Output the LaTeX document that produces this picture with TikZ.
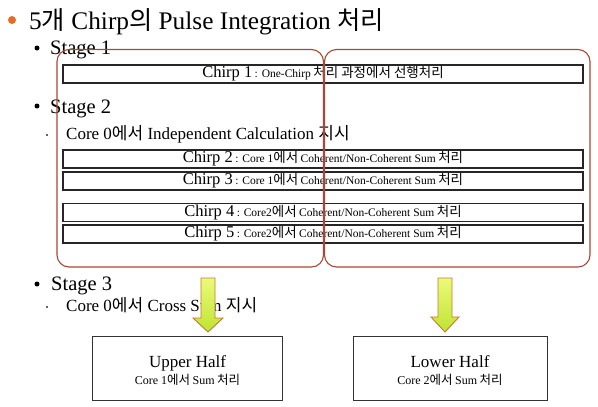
\documentclass[tikz,border=0pt]{standalone}
\usepackage{fontspec}
\setmainfont{Liberation Serif}
\newfontfamily\kr{Noto Sans CJK KR}
\usetikzlibrary{calc}
\definecolor{boxred}{RGB}{168,72,52}
\definecolor{bulorange}{RGB}{228,108,40}
\definecolor{arrowedge}{RGB}{200,120,50}
\definecolor{limetop}{RGB}{236,250,120}
\definecolor{limebot}{RGB}{190,228,50}
\tikzset{
  txt/.style={inner sep=0pt, anchor=base west},
  chirpbox/.style={draw=black!85, line width=1.3pt, minimum width=520pt, minimum height=18pt, inner sep=0pt},
  groupbox/.style={draw=boxred, line width=1.1pt, rounded corners=12pt, inner sep=0pt},
  halfbox/.style={draw=black!80, line width=1pt, minimum width=190pt, minimum height=64pt, inner sep=0pt, align=center},
  blockarrow/.style={draw=arrowedge, line width=0.9pt, top color=limetop, bottom color=limebot},
  bigdot/.style={fill=black, circle, inner sep=0pt, minimum size=5pt},
  smalldot/.style={fill=black!60, inner sep=0pt, minimum size=2pt},
}
\newcommand{\chbig}[1]{{\fontsize{16.5}{18}\selectfont #1}}
\newcommand{\chsml}[1]{{\fontsize{11.5}{13}\selectfont #1}}
\newcommand{\chksm}[1]{{\kr\fontsize{13.5}{15}\selectfont #1}}
\newcommand{\hsml}[1]{{\fontsize{12}{14}\selectfont #1}}
\newcommand{\hksm}[1]{{\kr\fontsize{12.5}{14}\selectfont #1}}
\begin{document}
\begin{tikzpicture}[x=1pt,y=-1pt]
\useasboundingbox (0,0) rectangle (598,407);
% title
\node[fill=bulorange, circle, inner sep=0pt, minimum size=8pt] (tb) at (12,20) {};
\node[txt, font=\fontsize{25.3}{30}\selectfont] (title) at (29,29) {5{\kr 개} Chirp{\kr 의} Pulse Integration {\kr 처리}};
% stage 1
\node[bigdot] (b1) at (37,48) {};
\node[txt, font=\fontsize{20.5}{24}\selectfont] (s1) at (50,54) {Stage 1};
\node[chirpbox] (c1) at (323,74) {\chbig{Chirp 1} \chsml{: One-Chirp} \chksm{처리 과정에서 선행처리}};
% stage 2
\node[bigdot] (b2) at (37,106) {};
\node[txt, font=\fontsize{20.5}{24}\selectfont] (s2) at (50,113) {Stage 2};
\node[smalldot] (d2) at (47,135) {};
\node[txt, font=\fontsize{17}{20}\selectfont] (ind) at (66,139) {Core 0{\kr 에서} Independent Calculation {\kr 지시}};
\node[chirpbox] (c2) at (323,159) {\chbig{Chirp 2} \chsml{: Core 1}\chksm{에서} \chsml{Coherent/Non-Coherent Sum} \chksm{처리}};
\node[chirpbox] (c3) at (323,181) {\chbig{Chirp 3} \chsml{: Core 1}\chksm{에서} \chsml{Coherent/Non-Coherent Sum} \chksm{처리}};
\node[chirpbox] (c4) at (323,212.5) {\chbig{Chirp 4} \chsml{: Core2}\chksm{에서} \chsml{Coherent/Non-Coherent Sum} \chksm{처리}};
\node[chirpbox] (c5) at (323,234) {\chbig{Chirp 5} \chsml{: Core2}\chksm{에서} \chsml{Coherent/Non-Coherent Sum} \chksm{처리}};
% group boxes
\node[groupbox, minimum width=266.5pt, minimum height=217.5pt] (gl) at (190.25,158.25) {};
\node[groupbox, minimum width=265.5pt, minimum height=217.5pt] (gr) at (457.25,158.25) {};
% stage 3
\node[bigdot] (b3) at (37,284) {};
\node[txt, font=\fontsize{20.5}{24}\selectfont] (s3) at (51,290) {Stage 3};
\node[smalldot] (d3) at (47,307) {};
\node[txt, font=\fontsize{17}{20}\selectfont] (cross) at (66,311) {Core 0{\kr 에서} Cross Sum {\kr 지시}};
% half boxes
\node[halfbox] (uh) at (187.5,368) {};
\node[txt, font=\fontsize{17}{19}\selectfont, anchor=base] (uht) at (187.5,367) {Upper Half};
\node[txt, anchor=base] (uhs) at (187.5,384) {\hsml{Core 1}\hksm{에서} \hsml{Sum} \hksm{처리}};
\node[halfbox, minimum width=194pt] (lh) at (450,368) {};
\node[txt, font=\fontsize{17}{19}\selectfont, anchor=base] (lht) at (450,367) {Lower Half};
\node[txt, anchor=base] (lhs) at (450,384) {\hsml{Core 2}\hksm{에서} \hsml{Sum} \hksm{처리}};
% block arrows
\draw[blockarrow] (201,278) -- (215,278) -- (215,318) -- (223,318) -- (208,332) -- (193,318) -- (201,318) -- cycle;
\draw[blockarrow] (438,278) -- (452,278) -- (452,317) -- (459,317) -- (445,332) -- (431,317) -- (438,317) -- cycle;
\end{tikzpicture}
\end{document}
